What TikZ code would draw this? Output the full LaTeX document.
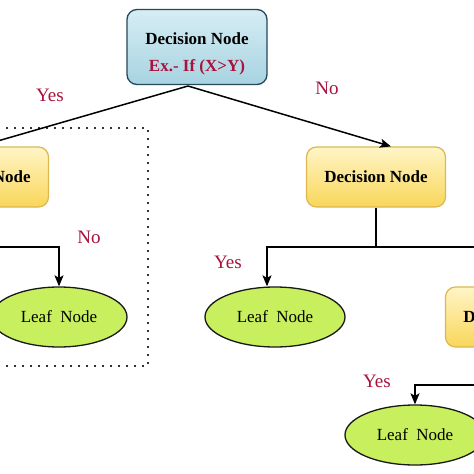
\documentclass[tikz,border=0pt]{standalone}
\usepackage{fontspec}
\setmainfont{Liberation Serif}
\usetikzlibrary{arrows.meta,shapes.geometric}
\definecolor{blueTop}{HTML}{D6EDF4}
\definecolor{blueBot}{HTML}{A8D3E1}
\definecolor{blueLine}{HTML}{24485A}
\definecolor{yelTop}{HTML}{FFF5C6}
\definecolor{yelBot}{HTML}{F9D65A}
\definecolor{yelLine}{HTML}{DDB850}
\definecolor{leafFill}{HTML}{C8EF5E}
\definecolor{labRed}{HTML}{A8123C}
\begin{document}
\begin{tikzpicture}[x=1pt,y=-1pt,
  decblue/.style={rectangle, rounded corners=10pt, draw=blueLine, line width=1.3pt,
    top color=blueTop, bottom color=blueBot, minimum width=140pt, minimum height=75pt,
    inner sep=0pt},
  boxtext/.style={align=center, inner sep=0pt, font=\fontsize{17}{20}\selectfont\bfseries},
  decyel/.style={rectangle, rounded corners=10pt, draw=yelLine, line width=1.2pt,
    top color=yelTop, bottom color=yelBot, minimum width=139pt, minimum height=60pt,
    inner sep=0pt, font=\fontsize{17}{20}\selectfont\bfseries},
  leaf/.style={ellipse, draw=black!90, line width=1.3pt, fill=leafFill,
    minimum width=140pt, minimum height=60pt, inner sep=0pt,
    font=\fontsize{17}{20}\selectfont},
  lab/.style={text=labRed, font=\fontsize{19}{22}\selectfont, inner sep=0pt},
  conn/.style={line width=1.5pt, black},
  arr/.style={conn, -{Stealth[length=11pt,width=9pt,inset=2.5pt]}},
  dotbox/.style={line width=1.8pt, dash pattern=on 1.8pt off 6.2pt, black!80}
]
\useasboundingbox (0,0) rectangle (474,474);
\clip (0,0) rectangle (474,474);
\fill[white] (0,0) rectangle (474,474);

% dotted grouping box
\draw[dotbox] (-20,128) rectangle (148,366);

% nodes
\node[decblue] (top) at (197,47) {};
\node[boxtext] (topText) at (197,54) {Decision Node\\[7pt]\textcolor{labRed}{Ex.- If (X>Y)}};
\node[decyel] (ldec) at (-21,177) {\raisebox{-3pt}{Decision Node}};
\node[decyel] (rdec) at (376,177) {\raisebox{-3pt}{Decision Node}};
\node[decyel] (rrdec) at (515,317) {\raisebox{-2pt}{Decision Node}};
\node[leaf, minimum width=136pt] (leafA) at (59,317) {Leaf\ \ Node};
\node[leaf] (leafB) at (275,317) {Leaf\ \ Node};
\node[leaf] (leafC) at (415,435) {Leaf\ \ Node};

% connectors
\coordinate (ts) at (188,86);
\draw[arr] (ts) -- (ldec.north);
\draw[arr] (ts) -- ([xshift=15pt]rdec.north);

\coordinate (lj) at (-21,247);
\draw[conn] (ldec.south) -- (lj);
\draw[arr] (lj) -| (leafA.north);

\coordinate (rj) at (376,247);
\draw[conn] (rdec.south) -- (rj);
\draw[arr] (rj) -| ([xshift=-8pt]leafB.north);
\draw[arr] (rj) -| (rrdec.north);

\coordinate (rrj) at (515,385);
\draw[conn] (rrdec.south) -- (rrj);
\draw[arr] (rrj) -| (leafC.north);

% labels
\node[lab] (yes1) at (50,95) {Yes};
\node[lab] (no1) at (327,88) {No};
\node[lab] (no2) at (89,237) {No};
\node[lab] (yes2) at (228,262) {Yes};
\node[lab] (yes3) at (377,381) {Yes};
\end{tikzpicture}
\end{document}
